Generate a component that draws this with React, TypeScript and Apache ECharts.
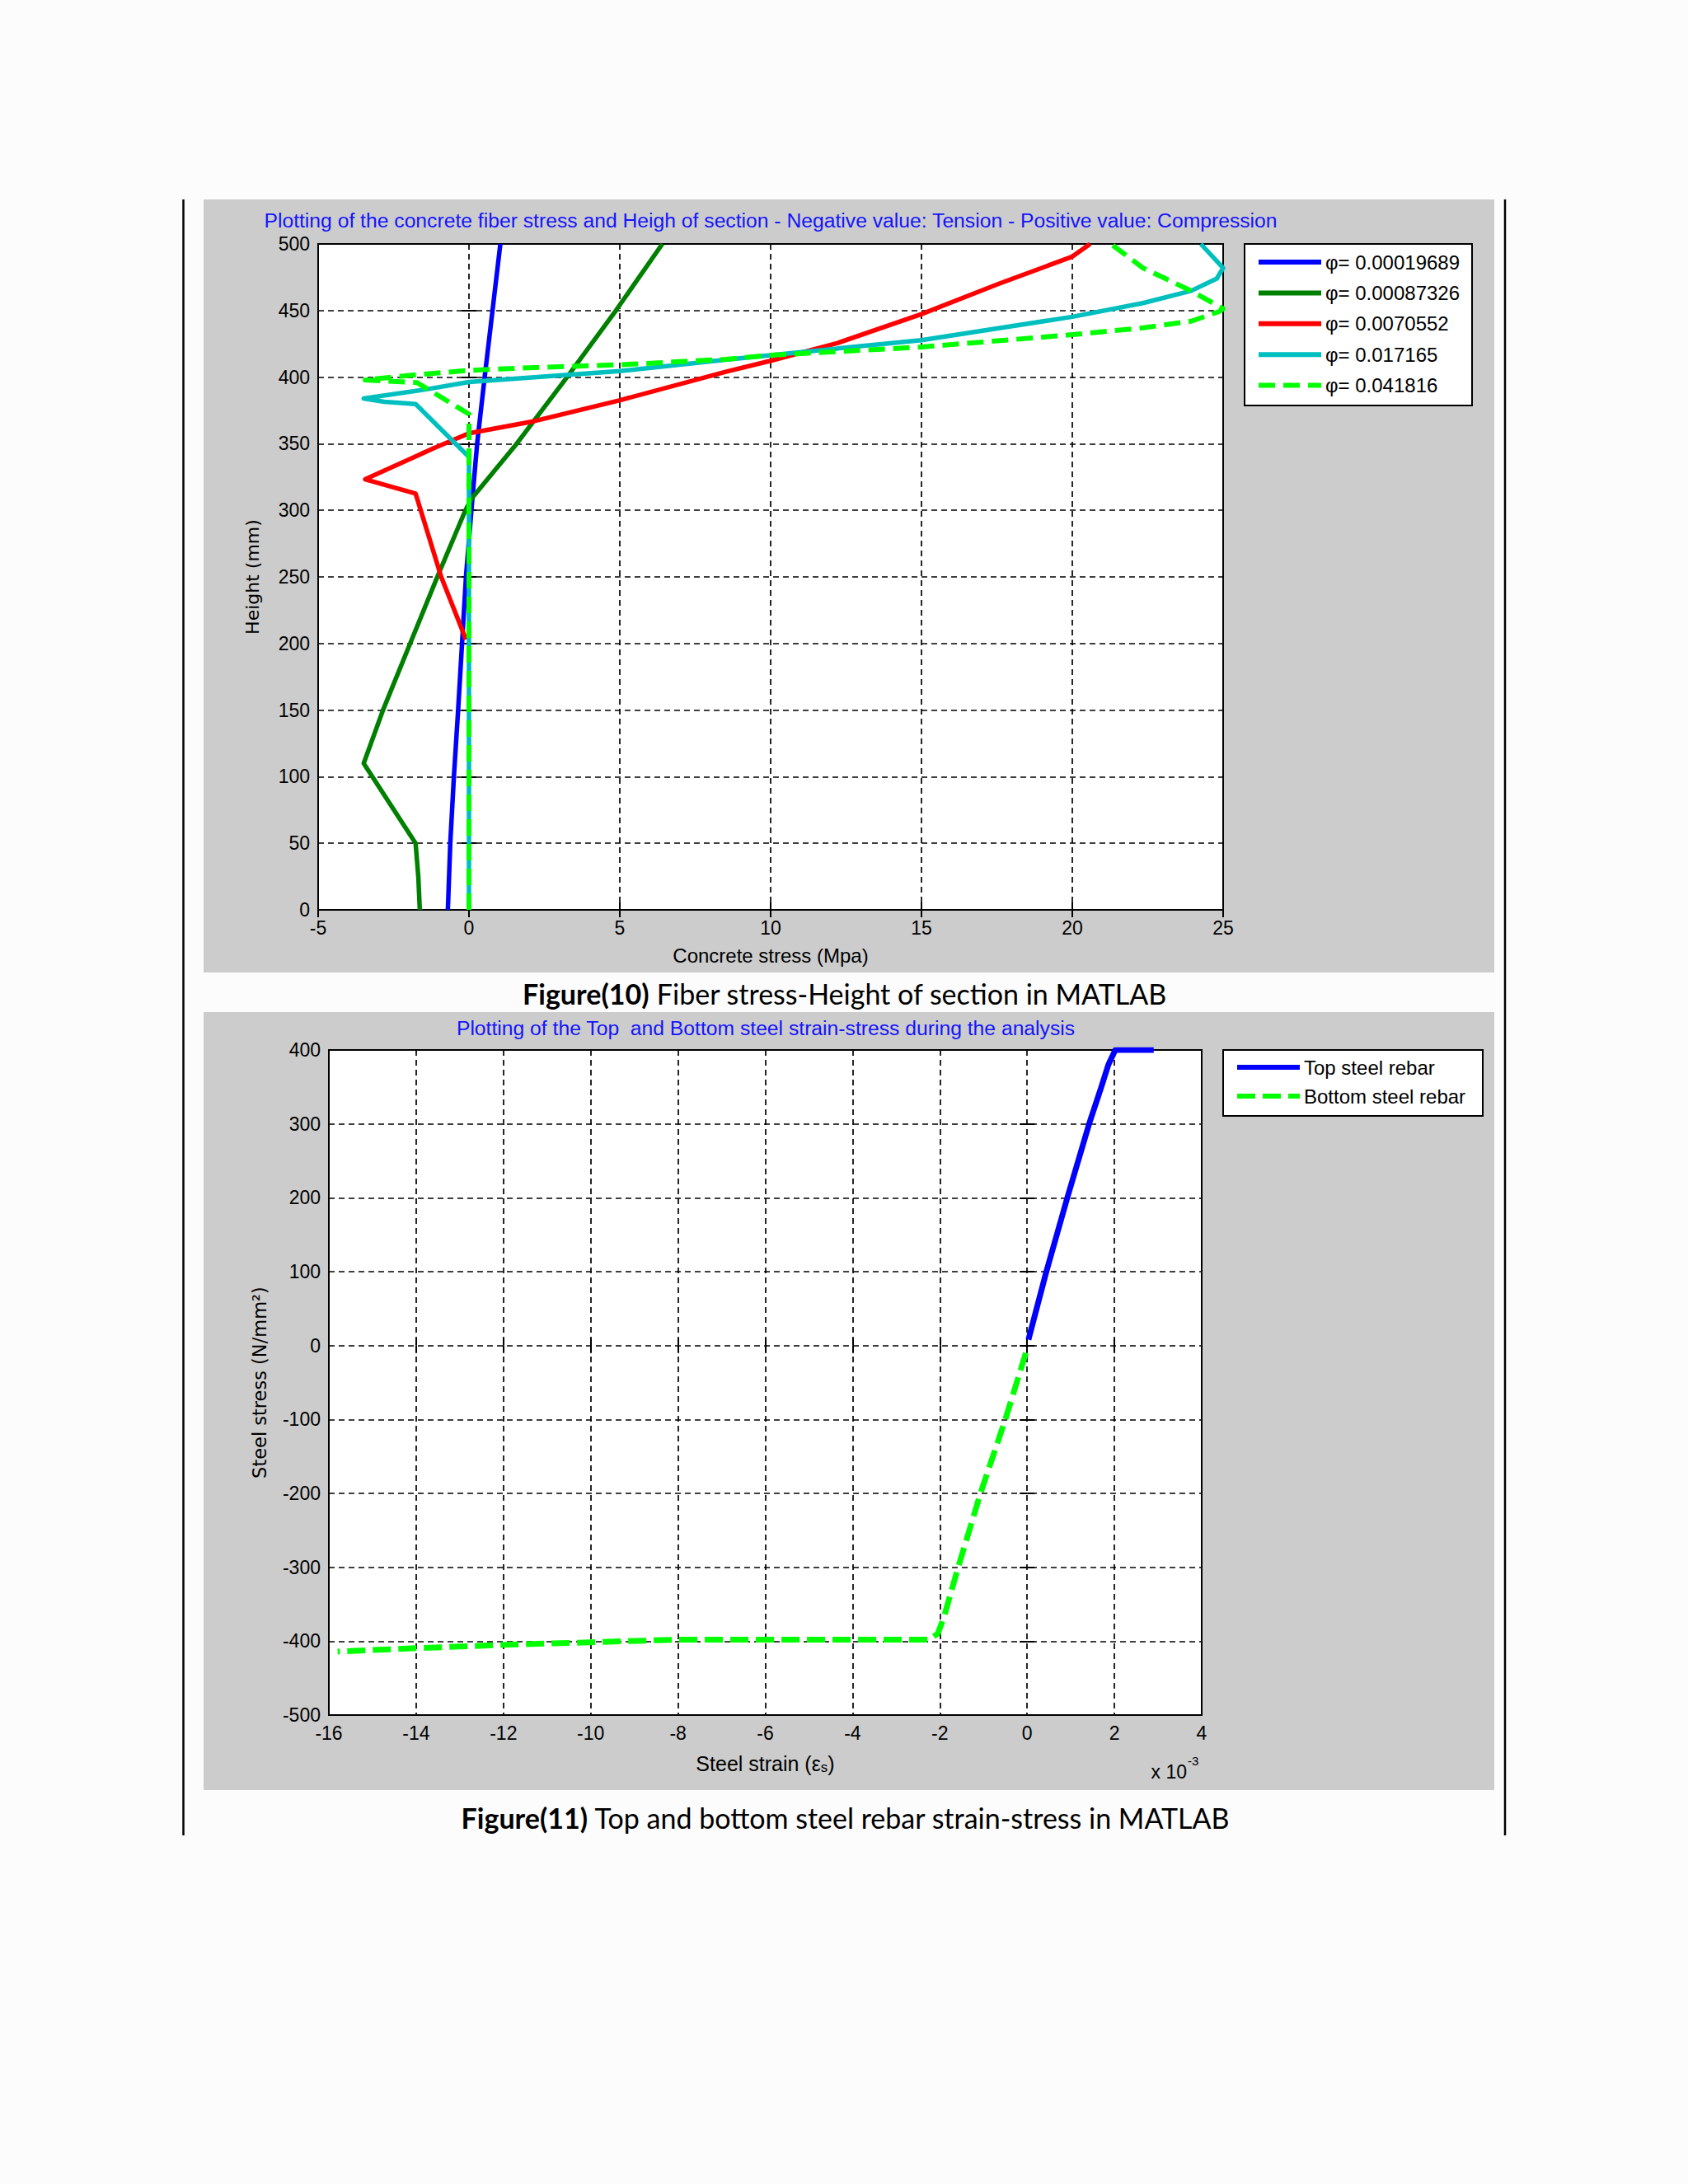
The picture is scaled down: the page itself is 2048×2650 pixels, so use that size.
import React, { useEffect, useRef } from "react";
import * as echarts from "echarts";

// ---------- Figure 10 data: [concrete stress (MPa), height (mm)] ----------
const fig1Title =
  "Plotting of the concrete fiber stress and Heigh of section - Negative value: Tension - Positive value: Compression";
const fig1Names = ["φ= 0.00019689", "φ= 0.00087326", "φ= 0.0070552", "φ= 0.017165", "φ= 0.041816"];

const phiA: number[][] = [
  [-0.7, 0], [-0.62, 50], [-0.5, 100], [-0.36, 150], [-0.23, 200], [-0.1, 250],
  [0.08, 300], [0.27, 350], [0.52, 400], [0.78, 450], [1.04, 500],
];
const phiB: number[][] = [
  [-1.63, 0], [-1.68, 25], [-1.77, 50], [-3.49, 110], [-2.85, 150], [-1.95, 200],
  [-1.05, 250], [-0.12, 300], [0.09, 309], [1.58, 350], [3.25, 400], [4.87, 450], [6.41, 500],
];
const phiC: number[][] = [
  [-0.1, 203], [-0.92, 250], [-1.77, 312.6], [-3.44, 323.3], [-1.18, 346.5], [0, 357.8],
  [2.17, 367], [4.98, 382.5], [8.51, 404], [10, 412.3], [12.23, 425.7], [15, 447.3],
  [17.55, 470], [20, 490.5], [20.59, 500],
];
const phiD: number[][] = [
  [0, 0], [0, 340], [-1.77, 379.8], [-2.81, 381.5], [-3.49, 384], [-1.45, 390.7], [0, 396.3],
  [5, 404.5], [8.51, 413], [10, 416.5], [15, 427.8], [20, 445.3], [22.34, 455.6],
  [23.94, 464.8], [24.79, 474], [25, 482], [24.26, 500],
];
const phiE: number[][] = [
  [0, 0], [0, 372.2], [-1.72, 395.9], [-3.44, 397.9], [-1.63, 402], [0, 405.1], [2.17, 407.2],
  [5, 409.3], [8.51, 413.4], [10, 416.5], [15, 422.6], [20, 431.9], [22.34, 437], [23.94, 442],
  [24.89, 449.4], [25, 451.4], [23.94, 464.8], [22.34, 482], [21.28, 500],
];

// ---------- Figure 11 data: [strain x10^-3, stress (N/mm2)] ----------
const fig2Title = "Plotting of the Top  and Bottom steel strain-stress during the analysis";
const fig2Names = ["Top steel rebar", "Bottom steel rebar"];
const topSteel: number[][] = [
  [0.03, 8], [0.44, 100], [0.92, 200], [1.42, 300], [1.7, 350], [1.86, 380], [2.02, 400], [2.9, 400],
];
const bottomSteel: number[][] = [
  [-0.03, -10], [-0.5, -100], [-1.07, -200], [-1.58, -300], [-1.92, -370], [-2.05, -390],
  [-2.25, -398], [-4, -398], [-6, -398], [-8, -398], [-8.6, -399], [-10, -401.5],
  [-12, -405], [-14, -409.5], [-15.8, -414],
];

const SANS = '"Liberation Sans", Arial, sans-serif';
const WIDE = '"DejaVu Sans", sans-serif';

const gridLine = { show: true, lineStyle: { color: "#000", width: 1.7, type: [7, 5] } };
const tickStyle = { show: true, inside: true, length: 9, lineStyle: { color: "#000", width: 2 } };
const labelStyle = { color: "#000", fontSize: 23, fontFamily: SANS };

function mainX(grid: number, min: number, max: number, interval: number, name: string, gap: number, size: number, rich?: any) {
  return {
    type: "value", gridIndex: grid, position: "bottom", min, max, interval,
    axisLine: { show: false }, axisTick: tickStyle,
    axisLabel: { ...labelStyle, margin: 10 },
    splitLine: gridLine,
    name, nameLocation: "middle", nameGap: gap,
    nameTextStyle: { color: "#000", fontSize: size, fontFamily: SANS, verticalAlign: "middle", rich },
  };
}
function mirrorX(grid: number, min: number, max: number, interval: number) {
  return {
    type: "value", gridIndex: grid, position: "top", min, max, interval,
    axisLine: { show: false }, axisTick: tickStyle, axisLabel: { show: false }, splitLine: { show: false },
  };
}
function mainY(grid: number, min: number, max: number, interval: number, name: string, gap: number, size: number) {
  return {
    type: "value", gridIndex: grid, position: "left", min, max, interval,
    axisLine: { show: false }, axisTick: tickStyle,
    axisLabel: { ...labelStyle, margin: 10 },
    splitLine: gridLine,
    name, nameLocation: "middle", nameGap: gap,
    nameTextStyle: { color: "#000", fontSize: size, fontFamily: WIDE, verticalAlign: "middle" },
  };
}
function mirrorY(grid: number, min: number, max: number, interval: number) {
  return {
    type: "value", gridIndex: grid, position: "right", min, max, interval,
    axisLine: { show: false }, axisTick: tickStyle, axisLabel: { show: false }, splitLine: { show: false },
  };
}

function line(name: string, data: number[][], color: string, width: number, dash: any, ax: number) {
  return {
    type: "line", name, data, xAxisIndex: ax, yAxisIndex: ax,
    symbol: "none", showSymbol: false, clip: true, z: 3,
    lineStyle: { color, width, type: dash, cap: "butt", join: "round" },
    itemStyle: { color },
  };
}

const legendBase = {
  orient: "vertical", padding: 0, itemWidth: 76, itemHeight: 14, selectedMode: false,
  itemStyle: { opacity: 0 },
  lineStyle: { width: 6 },
  textStyle: { color: "#000", fontSize: 24, fontFamily: SANS, lineHeight: 26 },
};

export default function App() {
  const ref = useRef<HTMLDivElement>(null);
  useEffect(() => {
    if (!ref.current) return;
    const chart = echarts.init(ref.current, undefined, { renderer: "svg" });
    const option: any = {
      animation: false,
      backgroundColor: "#FCFCFC",
      grid: [
        { left: 386, top: 296, width: 1098, height: 808, show: true, backgroundColor: "#FFFFFF", borderColor: "#000", borderWidth: 2 },
        { left: 399, top: 1274, width: 1059, height: 807, show: true, backgroundColor: "#FFFFFF", borderColor: "#000", borderWidth: 2 },
      ],
      xAxis: [
        mainX(0, -5, 25, 5, "Concrete stress (Mpa)", 55, 24),
        mirrorX(0, -5, 25, 5),
        mainX(1, -16, 4, 2, "Steel strain (ε{sub|s})", 59, 25, {
          sub: { fontSize: 17, fontFamily: SANS, color: "#000", lineHeight: 4, verticalAlign: "bottom" },
        }),
        mirrorX(1, -16, 4, 2),
      ],
      yAxis: [
        mainY(0, 0, 500, 50, "Height (mm)", 80, 22),
        mirrorY(0, 0, 500, 50),
        mainY(1, -500, 400, 100, "Steel stress (N/mm²)", 84, 22.5),
        mirrorY(1, -500, 400, 100),
      ],
      legend: [
        { ...legendBase, data: fig1Names, left: 1524, top: 305, itemGap: 11.4 },
        { ...legendBase, data: fig2Names, left: 1498, top: 1282, itemGap: 9 },
      ],
      graphic: {
        elements: [
          { type: "rect", z: -10, shape: { x: 247, y: 242, width: 1566, height: 938 }, style: { fill: "#CCCCCC" } },
          { type: "rect", z: -10, shape: { x: 247, y: 1228, width: 1566, height: 944 }, style: { fill: "#CCCCCC" } },
          { type: "line", shape: { x1: 222.5, y1: 242, x2: 222.5, y2: 2227 }, style: { stroke: "#000", lineWidth: 2.5 } },
          { type: "line", shape: { x1: 1826, y1: 242, x2: 1826, y2: 2227 }, style: { stroke: "#000", lineWidth: 2.5 } },
          { type: "rect", z: 1, shape: { x: 1510, y: 296, width: 276, height: 196 }, style: { fill: "#FFFFFF", stroke: "#000", lineWidth: 2 } },
          { type: "rect", z: 1, shape: { x: 1484, y: 1274, width: 315, height: 80 }, style: { fill: "#FFFFFF", stroke: "#000", lineWidth: 2 } },
          {
            type: "text", z: 5, x: 935, y: 267,
            style: { text: fig1Title, fill: "#1414FF", fontSize: 24.7, fontFamily: SANS, align: "center", verticalAlign: "middle" },
          },
          {
            type: "text", z: 5, x: 929, y: 1247,
            style: { text: fig2Title, fill: "#1414FF", fontSize: 24.7, fontFamily: SANS, align: "center", verticalAlign: "middle" },
          },
          {
            type: "text", z: 5, x: 1025, y: 1205,
            style: {
              text: "{b|Figure(10)} Fiber stress-Height of section in MATLAB",
              fill: "#000", fontSize: 34, fontFamily: "Lato", align: "center", verticalAlign: "middle",
              rich: { b: { fontWeight: "bold", fontSize: 34, fontFamily: "Lato", fill: "#000" } },
            },
          },
          {
            type: "text", z: 5, x: 1026, y: 2205,
            style: {
              text: "{b|Figure(11)} Top and bottom steel rebar strain-stress in MATLAB",
              fill: "#000", fontSize: 34, fontFamily: "Lato", align: "center", verticalAlign: "middle",
              rich: { b: { fontWeight: "bold", fontSize: 34, fontFamily: "Lato", fill: "#000" } },
            },
          },
          {
            type: "text", z: 5, x: 1440, y: 2150,
            style: { text: "x 10", fill: "#000", fontSize: 23, fontFamily: SANS, align: "right", verticalAlign: "middle" },
          },
          {
            type: "text", z: 5, x: 1441, y: 2136,
            style: { text: "-3", fill: "#000", fontSize: 15, fontFamily: SANS, align: "left", verticalAlign: "middle" },
          },
        ],
      },
      series: [
        line(fig1Names[0], phiA, "#0000FF", 5.5, "solid", 0),
        line(fig1Names[1], phiB, "#008000", 5.5, "solid", 0),
        line(fig1Names[2], phiC, "#FF0000", 5.5, "solid", 0),
        line(fig1Names[3], phiD, "#00BFBF", 5.5, "solid", 0),
        line(fig1Names[4], phiE, "#00FF00", 6, [20, 10], 0),
        line(fig2Names[0], topSteel, "#0000FF", 7, "solid", 2),
        line(fig2Names[1], bottomSteel, "#00FF00", 7, [22, 9], 2),
      ],
    };
    chart.setOption(option);
    return () => chart.dispose();
  }, []);
  return (
    <div
      ref={ref}
      style={{ position: "absolute", left: 0, top: 0, width: 2048, height: 2650 }}
    />
  );
}
